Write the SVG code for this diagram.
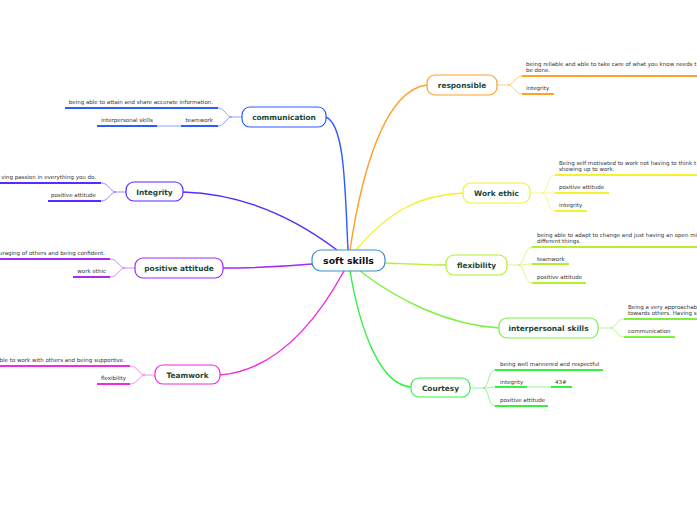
<svg xmlns="http://www.w3.org/2000/svg" width="697" height="520" viewBox="0 0 697 520">
<style>
.node rect{fill:#fff;stroke-width:1.2}
.nt{font-family:"DejaVu Sans",Verdana,sans-serif;font-weight:bold;font-size:7.4px;fill:#1d4636;text-anchor:middle}
.st{font-family:"DejaVu Sans",Verdana,sans-serif;font-size:5.5px;fill:#333}
.ul{fill:none;stroke-width:1.8}
.br{fill:none;stroke-width:1;opacity:0.55}
.mc{fill:none;stroke-width:1.4}
</style>
<rect width="697" height="520" fill="#fff"/>
<g id="connectors">
<path class="mc" stroke="#2a5cff" d="M348,250 C345,190 345,125 326,117"/>
<path class="mc" stroke="#5a2bff" d="M183,192 C250,194 300,222 337,250"/>
<path class="mc" stroke="#a52bf0" d="M223,268 C260,268 290,266 312,264"/>
<path class="mc" stroke="#f02be0" d="M220,375 C280,370 320,315 344,271"/>
<path class="mc" stroke="#ffa02a" d="M350,250 C362,170 385,90 427,85"/>
<path class="mc" stroke="#f5f030" d="M356,250 C390,210 420,195 463,193"/>
<path class="mc" stroke="#b5f030" d="M385,263 C410,264 430,265 446,265"/>
<path class="mc" stroke="#7cf040" d="M360,271 C400,302 450,325 499,328"/>
<path class="mc" stroke="#35f040" d="M350,271 C360,330 380,385 411,387"/>
<path class="br" stroke="#2a5cff" d="M242,117 H232 C226,117 225,108 218,108 M232,117 C226,117 225,126 218,126"/>
<path class="ul" stroke="#2a5cff" d="M65,108 H218 M181,126 H218 M97,126 H157"/>
<path class="br" stroke="#2a5cff" d="M157,126 H181"/>
<path class="br" stroke="#5a2bff" d="M126,192 H116 C110,192 109,183 101,183 M116,192 C110,192 109,201 101,201"/>
<path class="ul" stroke="#5a2bff" d="M0,183 H101 M48,201 H101"/>
<path class="br" stroke="#a52bf0" d="M135,268 H125 C119,268 118,259 110,259 M125,268 C119,268 118,277 110,277"/>
<path class="ul" stroke="#a52bf0" d="M0,259 H110 M73,277 H110"/>
<path class="br" stroke="#f02be0" d="M155,375 H145 C139,375 138,366 130,366 M145,375 C139,375 138,384 130,384"/>
<path class="ul" stroke="#f02be0" d="M0,366 H130 M97,384 H130"/>
<path class="br" stroke="#ffa02a" d="M497,85 H508 C514,85 515,76 522,76 M508,85 C514,85 515,94 522,94"/>
<path class="ul" stroke="#ffa02a" d="M522,76 H697 M522,94 H554"/>
<path class="br" stroke="#f5f030" d="M530,193 H542 C548,193 547,175 555,175 M542,193 H555 M542,193 C548,193 547,211 555,211"/>
<path class="ul" stroke="#f5f030" d="M555,175 H697 M555,193 H609 M555,211 H587"/>
<path class="br" stroke="#b5f030" d="M507,265 H518 C525,265 524,247 532,247 M518,265 C524,265 525,264 532,264 M518,265 C525,265 524,283 532,283"/>
<path class="ul" stroke="#b5f030" d="M532,247 H697 M532,264 H569 M532,283 H586"/>
<path class="br" stroke="#7cf040" d="M598,328 H610 C616,328 617,319 624,319 M610,328 C616,328 617,337 624,337"/>
<path class="ul" stroke="#7cf040" d="M624,319 H697 M624,337 H675"/>
<path class="br" stroke="#35f040" d="M470,388 H483 C489,388 488,370 495,370 M483,388 C489,388 489,387 495,387 M483,388 C489,388 488,406 495,406"/>
<path class="ul" stroke="#35f040" d="M495,370 H603 M495,387 H527 M551,387 H572 M495,406 H548"/>
<path class="br" stroke="#35f040" d="M527,387 H551"/>
</g>
<g id="soft-skills" class="node"><rect x="312" y="250" width="73" height="21" rx="9" stroke="#3a8fd0"/><text class="nt" x="348.5" y="264" style="font-size:9.4px;fill:#111">soft skills</text></g>
<g id="communication" class="node"><rect x="242" y="107" width="84" height="20" rx="8" stroke="#2a5cff"/><text class="nt" x="284" y="120">communication</text></g>
<g id="integrity" class="node"><rect x="126" y="182" width="57" height="19" rx="8" stroke="#5a2bff"/><text class="nt" x="154.5" y="195">Integrity</text></g>
<g id="positive-attitude" class="node"><rect x="135" y="258" width="88" height="20" rx="8" stroke="#a52bf0"/><text class="nt" x="179" y="271">positive attitude</text></g>
<g id="teamwork" class="node"><rect x="155" y="365" width="65" height="19" rx="8" stroke="#f02be0"/><text class="nt" x="187.5" y="378">Teamwork</text></g>
<g id="responsible" class="node"><rect x="427" y="75" width="70" height="20" rx="8" stroke="#ffa02a"/><text class="nt" x="462" y="88">responsible</text></g>
<g id="work-ethic" class="node"><rect x="463" y="183" width="67" height="20" rx="8" stroke="#f5f030"/><text class="nt" x="496.5" y="196">Work ethic</text></g>
<g id="flexibility" class="node"><rect x="446" y="255" width="61" height="20" rx="8" stroke="#b5f030"/><text class="nt" x="476.5" y="268">flexibility</text></g>
<g id="interpersonal-skills" class="node"><rect x="499" y="318" width="99" height="20" rx="8" stroke="#7cf040"/><text class="nt" x="548.5" y="331">interpersonal skills</text></g>
<g id="courtesy" class="node"><rect x="411" y="378" width="59" height="19" rx="8" stroke="#35f040"/><text class="nt" x="440.5" y="391">Courtesy</text></g>
<g id="labels">
<text class="st" x="213" y="104" text-anchor="end">being able to attain and share accurate information.</text>
<text class="st" x="213" y="122" text-anchor="end">teamwork</text>
<text class="st" x="101" y="122">interpersonal skills</text>
<text class="st" x="96" y="179" text-anchor="end">ving passion in everything you do.</text>
<text class="st" x="96" y="197" text-anchor="end">positive attitude</text>
<text class="st" x="105" y="255" text-anchor="end">uraging of others and being confident.</text>
<text class="st" x="106" y="273" text-anchor="end">work ethic</text>
<text class="st" x="125" y="362" text-anchor="end">ble to work with others and being supportive.</text>
<text class="st" x="126" y="380" text-anchor="end">flexibility</text>
<text class="st" x="526" y="66">being reliable and able to take care of what you know needs t</text>
<text class="st" x="526" y="72">be done.</text>
<text class="st" x="526" y="90">integrity</text>
<text class="st" x="559" y="165">Being self motivated to work not having to think t</text>
<text class="st" x="559" y="171">showing up to work.</text>
<text class="st" x="559" y="189">positive attitude</text>
<text class="st" x="559" y="207">integrity</text>
<text class="st" x="537" y="237">being able to adapt to change and just having an open mi</text>
<text class="st" x="537" y="243">different things.</text>
<text class="st" x="537" y="261">teamwork</text>
<text class="st" x="537" y="279">positive attitude</text>
<text class="st" x="628" y="309">Being a very approachab</text>
<text class="st" x="628" y="315">towards others. Having s</text>
<text class="st" x="628" y="333">communication</text>
<text class="st" x="500" y="366">being well mannered and respectful</text>
<text class="st" x="500" y="384">integrity</text>
<text class="st" x="555" y="384">43#</text>
<text class="st" x="500" y="402">positive attitude</text>
</g>
</svg>
